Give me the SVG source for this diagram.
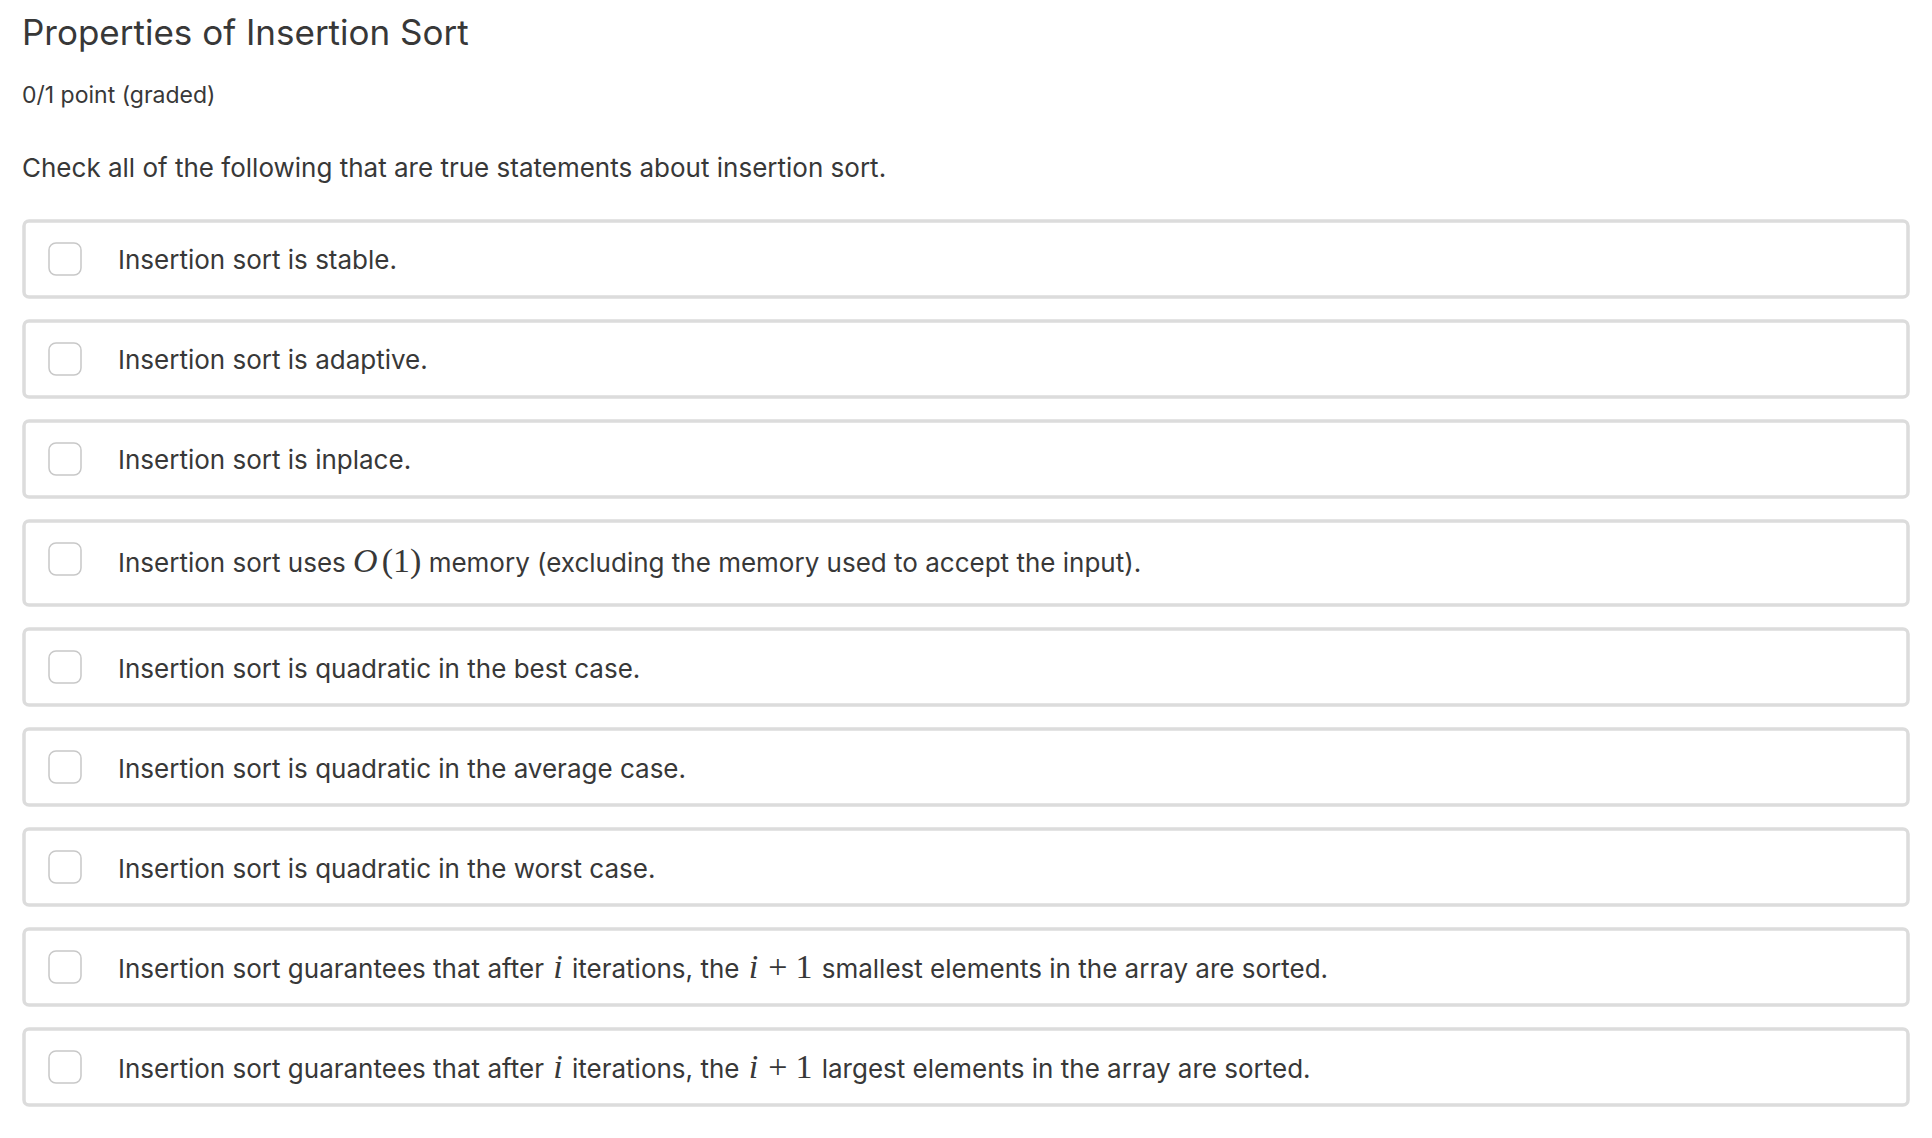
<svg xmlns="http://www.w3.org/2000/svg" width="1932" height="1138" viewBox="0 0 1932 1138">
<style>
text{font-family:Inter,"Open Sans","Liberation Sans",sans-serif;fill:#383838}
.opt{font-size:26px}
.box{fill:#fff;stroke:#dcdcdc;stroke-width:3.5}
.cb{fill:#fff;stroke:#c8c8c8;stroke-width:1.5}
.m{font-family:"Liberation Serif","DejaVu Serif",serif;font-size:34px}
.mi{font-family:"Liberation Serif","DejaVu Serif",serif;font-size:34px;font-style:italic}
</style>
<rect width="1932" height="1138" fill="#fff"/>
<text x="22" y="45" font-size="35">Properties of Insertion Sort</text>
<text x="22" y="103" font-size="23">0/1 point (graded)</text>
<text x="22" y="177" font-size="26">Check all of the following that are true statements about insertion sort.</text>
<g id="o1"><rect class="box" x="24" y="221" width="1884" height="76" rx="5"/><rect class="cb" x="49" y="243" width="32" height="32" rx="7"/><text class="opt" x="118" y="269">Insertion sort is stable.</text></g>
<g id="o2"><rect class="box" x="24" y="321" width="1884" height="76" rx="5"/><rect class="cb" x="49" y="343" width="32" height="32" rx="7"/><text class="opt" x="118" y="369">Insertion sort is adaptive.</text></g>
<g id="o3"><rect class="box" x="24" y="421" width="1884" height="76" rx="5"/><rect class="cb" x="49" y="443" width="32" height="32" rx="7"/><text class="opt" x="118" y="469">Insertion sort is inplace.</text></g>
<g id="o4"><rect class="box" x="24" y="521" width="1884" height="84" rx="5"/><rect class="cb" x="49" y="543" width="32" height="32" rx="7"/><text class="opt" x="118" y="572">Insertion sort uses <tspan class="mi">O</tspan><tspan class="m" dx="4">(1)</tspan> memory (excluding the memory used to accept the input).</text></g>
<g id="o5"><rect class="box" x="24" y="629" width="1884" height="76" rx="5"/><rect class="cb" x="49" y="651" width="32" height="32" rx="7"/><text class="opt" x="118" y="678">Insertion sort is quadratic in the best case.</text></g>
<g id="o6"><rect class="box" x="24" y="729" width="1884" height="76" rx="5"/><rect class="cb" x="49" y="751" width="32" height="32" rx="7"/><text class="opt" x="118" y="778">Insertion sort is quadratic in the average case.</text></g>
<g id="o7"><rect class="box" x="24" y="829" width="1884" height="76" rx="5"/><rect class="cb" x="49" y="851" width="32" height="32" rx="7"/><text class="opt" x="118" y="878">Insertion sort is quadratic in the worst case.</text></g>
<g id="o8"><rect class="box" x="24" y="929" width="1884" height="76" rx="5"/><rect class="cb" x="49" y="951" width="32" height="32" rx="7"/><text class="opt" x="118" y="978">Insertion sort guarantees that after <tspan class="mi" dx="2">i</tspan><tspan dx="2"> iterations, the </tspan><tspan class="mi" dx="2">i</tspan><tspan class="m" dx="10">+</tspan><tspan class="m" dx="8">1</tspan><tspan dx="2"> smallest elements in the array are sorted.</tspan></text></g>
<g id="o9"><rect class="box" x="24" y="1029" width="1884" height="76" rx="5"/><rect class="cb" x="49" y="1051" width="32" height="32" rx="7"/><text class="opt" x="118" y="1078">Insertion sort guarantees that after <tspan class="mi" dx="2">i</tspan><tspan dx="2"> iterations, the </tspan><tspan class="mi" dx="2">i</tspan><tspan class="m" dx="10">+</tspan><tspan class="m" dx="8">1</tspan><tspan dx="2"> largest elements in the array are sorted.</tspan></text></g>
</svg>
